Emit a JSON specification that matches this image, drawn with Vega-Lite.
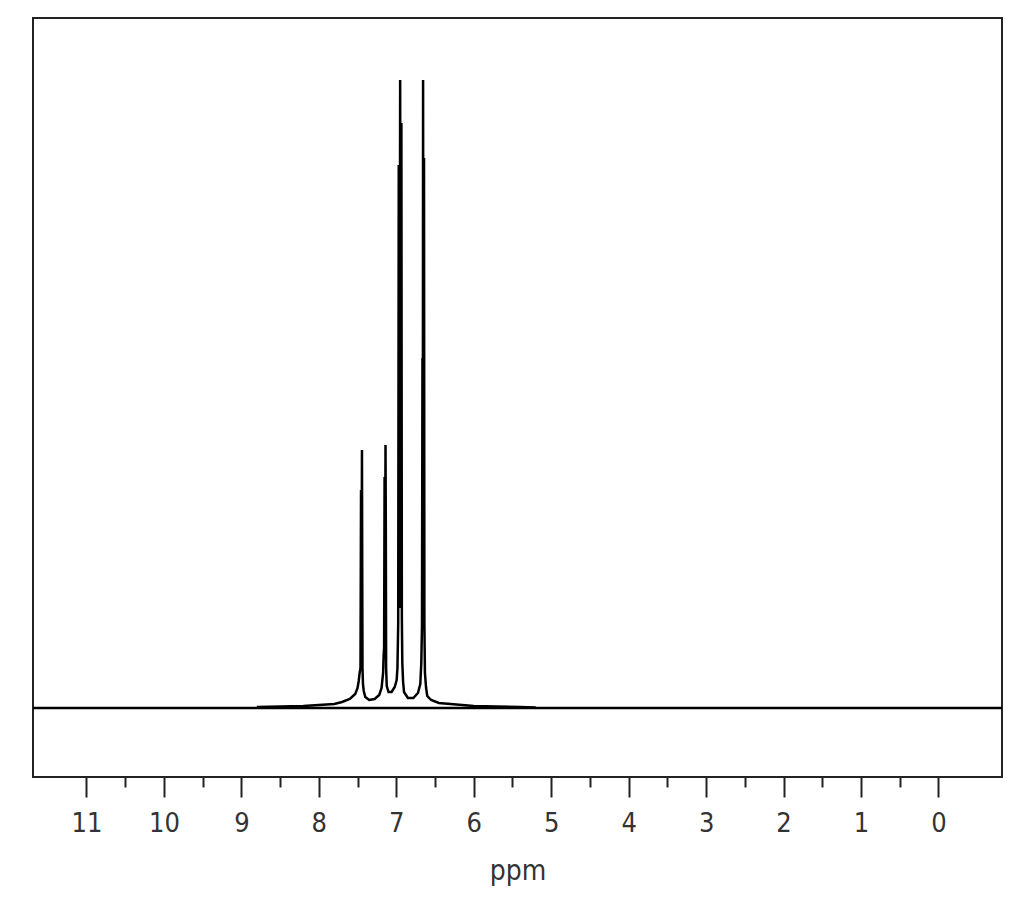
{
  "$schema": "https://vega.github.io/schema/vega-lite/v6.json",
  "width": 969,
  "height": 759,
  "autosize": {"type": "none"},
  "padding": {"left": 33, "top": 18, "right": 22, "bottom": 123},
  "background": "white",
  "config": {"view": {"stroke": "#222", "strokeWidth": 2}},
  "data": {"values": [
    {"s": "base", "ppm": -0.82, "i": 0}, {"s": "base", "ppm": 11.69, "i": 0},
    {"s": "spec", "ppm": 8.80, "i": 1}, {"s": "spec", "ppm": 8.5, "i": 1.5}, {"s": "spec", "ppm": 8.2, "i": 2}, {"s": "spec", "ppm": 8.0, "i": 3},
    {"s": "spec", "ppm": 7.8, "i": 4}, {"s": "spec", "ppm": 7.7, "i": 6}, {"s": "spec", "ppm": 7.6, "i": 9}, {"s": "spec", "ppm": 7.53, "i": 14},
    {"s": "spec", "ppm": 7.50, "i": 20}, {"s": "spec", "ppm": 7.485, "i": 27}, {"s": "spec", "ppm": 7.475, "i": 34}, {"s": "spec", "ppm": 7.462, "i": 40},
    {"s": "spec", "ppm": 7.455, "i": 218}, {"s": "spec", "ppm": 7.449, "i": 80}, {"s": "spec", "ppm": 7.443, "i": 258}, {"s": "spec", "ppm": 7.44, "i": 150},
    {"s": "spec", "ppm": 7.436, "i": 40}, {"s": "spec", "ppm": 7.43, "i": 24}, {"s": "spec", "ppm": 7.42, "i": 17}, {"s": "spec", "ppm": 7.40, "i": 11},
    {"s": "spec", "ppm": 7.35, "i": 8}, {"s": "spec", "ppm": 7.28, "i": 9}, {"s": "spec", "ppm": 7.22, "i": 13}, {"s": "spec", "ppm": 7.19, "i": 20},
    {"s": "spec", "ppm": 7.17, "i": 35}, {"s": "spec", "ppm": 7.163, "i": 53}, {"s": "spec", "ppm": 7.157, "i": 60}, {"s": "spec", "ppm": 7.151, "i": 231},
    {"s": "spec", "ppm": 7.146, "i": 80}, {"s": "spec", "ppm": 7.139, "i": 263}, {"s": "spec", "ppm": 7.135, "i": 180}, {"s": "spec", "ppm": 7.131, "i": 40},
    {"s": "spec", "ppm": 7.123, "i": 22}, {"s": "spec", "ppm": 7.10, "i": 16}, {"s": "spec", "ppm": 7.06, "i": 16}, {"s": "spec", "ppm": 7.02, "i": 21},
    {"s": "spec", "ppm": 6.995, "i": 28}, {"s": "spec", "ppm": 6.985, "i": 40}, {"s": "spec", "ppm": 6.975, "i": 85}, {"s": "spec", "ppm": 6.968, "i": 543},
    {"s": "spec", "ppm": 6.959, "i": 100}, {"s": "spec", "ppm": 6.950, "i": 628}, {"s": "spec", "ppm": 6.942, "i": 150}, {"s": "spec", "ppm": 6.934, "i": 585},
    {"s": "spec", "ppm": 6.928, "i": 90}, {"s": "spec", "ppm": 6.922, "i": 45}, {"s": "spec", "ppm": 6.912, "i": 26}, {"s": "spec", "ppm": 6.90, "i": 16},
    {"s": "spec", "ppm": 6.85, "i": 10}, {"s": "spec", "ppm": 6.78, "i": 10}, {"s": "spec", "ppm": 6.72, "i": 15}, {"s": "spec", "ppm": 6.69, "i": 24},
    {"s": "spec", "ppm": 6.677, "i": 45}, {"s": "spec", "ppm": 6.668, "i": 83}, {"s": "spec", "ppm": 6.662, "i": 350}, {"s": "spec", "ppm": 6.658, "i": 120},
    {"s": "spec", "ppm": 6.654, "i": 628}, {"s": "spec", "ppm": 6.648, "i": 150}, {"s": "spec", "ppm": 6.642, "i": 550}, {"s": "spec", "ppm": 6.637, "i": 83},
    {"s": "spec", "ppm": 6.63, "i": 35}, {"s": "spec", "ppm": 6.615, "i": 20}, {"s": "spec", "ppm": 6.60, "i": 12}, {"s": "spec", "ppm": 6.55, "i": 8},
    {"s": "spec", "ppm": 6.45, "i": 5}, {"s": "spec", "ppm": 6.3, "i": 4}, {"s": "spec", "ppm": 6.0, "i": 2}, {"s": "spec", "ppm": 5.7, "i": 1.5},
    {"s": "spec", "ppm": 5.4, "i": 1}, {"s": "spec", "ppm": 5.2, "i": 0.5}
  ]},
  "mark": {"type": "line", "color": "#000", "strokeWidth": 2.5},
  "encoding": {
    "detail": {"field": "s", "type": "nominal"},
    "x": {
      "field": "ppm", "type": "quantitative",
      "scale": {"domain": [-0.82, 11.69], "reverse": true, "nice": false, "zero": false},
      "axis": {
        "values": [0, 0.5, 1, 1.5, 2, 2.5, 3, 3.5, 4, 4.5, 5, 5.5, 6, 6.5, 7, 7.5, 8, 8.5, 9, 9.5, 10, 10.5, 11],
        "labelExpr": "datum.value % 1 === 0 ? format(datum.value, 'd') : ''",
        "domain": false,
        "grid": false,
        "tickColor": "#222",
        "tickWidth": 2,
        "tickSize": {"condition": {"test": "datum.value % 1 === 0", "value": 20}, "value": 10},
        "labelPadding": 13,
        "labelFont": "DejaVu Sans Condensed, Liberation Sans",
        "labelFontSize": 27,
        "labelColor": "#333",
        "labelFlush": false,
        "labelOverlap": false,
        "title": "ppm",
        "titleFont": "DejaVu Sans Condensed, Liberation Sans",
        "titleFontSize": 28,
        "titleFontWeight": "normal",
        "titleColor": "#333",
        "titlePadding": 21
      }
    },
    "y": {"field": "i", "type": "quantitative", "scale": {"domain": [-69, 690]}, "axis": null}
  }
}
